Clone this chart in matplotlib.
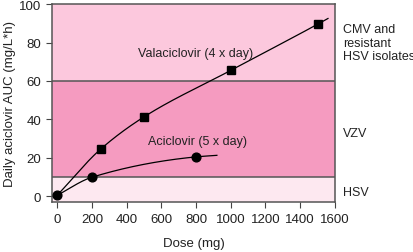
import numpy as np
import matplotlib
matplotlib.use('Agg')
import matplotlib.pyplot as plt

plt.rcParams['font.family'] = ['Liberation Sans', 'DejaVu Sans']

# Daily aciclovir AUC vs dose
vala_dose = [0, 250, 500, 1000, 1500]
vala_auc = [0.5, 24.5, 41.3, 65.5, 89.5]
vala_end = (1560, 92.5)

acic_dose = [0, 200, 800]
acic_auc = [0.5, 9.9, 20.5]
acic_end = (920, 21.3)

# Therapeutic bands: (low, high, colour, label)
bands = [(-5, 10, '#fde8f0', 'HSV'),
         (10, 60, '#f59bc0', 'VZV'),
         (60, 100, '#fcc8dd', 'CMV and\nresistant\nHSV isolates')]
band_label_y = [2, 33, 80]


def smooth(xs, ys, n=200):
    """Monotone cubic (PCHIP-like) curve through the points, for drawing."""
    xs = np.asarray(xs, float)
    ys = np.asarray(ys, float)
    h = np.diff(xs)
    d = np.diff(ys) / h
    m = np.zeros_like(ys)
    m[0], m[-1] = d[0], d[-1]
    for i in range(1, len(xs) - 1):
        if d[i - 1] * d[i] > 0:
            w1 = 2 * h[i] + h[i - 1]
            w2 = h[i] + 2 * h[i - 1]
            m[i] = (w1 + w2) / (w1 / d[i - 1] + w2 / d[i])
    xx = np.linspace(xs[0], xs[-1], n)
    idx = np.clip(np.searchsorted(xs, xx) - 1, 0, len(xs) - 2)
    t = (xx - xs[idx]) / h[idx]
    h00 = 2 * t**3 - 3 * t**2 + 1
    h10 = t**3 - 2 * t**2 + t
    h01 = -2 * t**3 + 3 * t**2
    h11 = t**3 - t**2
    yy = (h00 * ys[idx] + h10 * h[idx] * m[idx]
          + h01 * ys[idx + 1] + h11 * h[idx] * m[idx + 1])
    return xx, yy


fig = plt.figure(figsize=(4.14, 2.53), dpi=100)
ax = fig.add_axes([0.126, 0.199, 0.683, 0.781])

for (lo, hi, col, lab), ly in zip(bands, band_label_y):
    ax.axhspan(lo, hi, color=col, lw=0, zorder=0)
    ax.text(1646, ly, lab, fontsize=9, color='#222222', va='center',
            ha='left', linespacing=1.15)
for b in (10, 60):
    ax.axhline(b, color='#555555', lw=1.1, zorder=1)

vx, vy = smooth(vala_dose + [vala_end[0]], vala_auc + [vala_end[1]])
ax.plot(vx, vy, color='black', lw=0.9, zorder=2)
ax.plot(vala_dose[1:], vala_auc[1:], 's', color='black', ms=6, zorder=3)

cx, cy = smooth(acic_dose + [acic_end[0]], acic_auc + [acic_end[1]])
ax.plot(cx, cy, color='black', lw=0.9, zorder=2)
ax.plot(acic_dose, acic_auc, 'o', color='black', ms=6.3, zorder=3)

ax.text(800, 74.5, 'Valaciclovir (4 x day)', fontsize=9, ha='center',
        va='center', color='#222222')
ax.text(522, 28.6, 'Aciclovir (5 x day)', fontsize=9, ha='left',
        va='center', color='#222222')

ax.set_xlim(-29, 1600)
ax.set_ylim(-2.8, 100)
ax.set_xticks(np.arange(0, 1601, 200))
ax.set_yticks(np.arange(0, 101, 20))
ax.tick_params(labelsize=9.5, length=4, width=0.8, color='#444444',
               labelcolor='#222222', pad=4)
for s in ax.spines.values():
    s.set_color('#555555')
    s.set_linewidth(1.1)
ax.set_xlabel('Dose (mg)', fontsize=9.5, color='#222222', labelpad=9)
ax.set_ylabel('Daily aciclovir AUC (mg/L*h)', fontsize=9.5, color='#222222',
              labelpad=2)

fig.savefig('out.png', dpi=100)
